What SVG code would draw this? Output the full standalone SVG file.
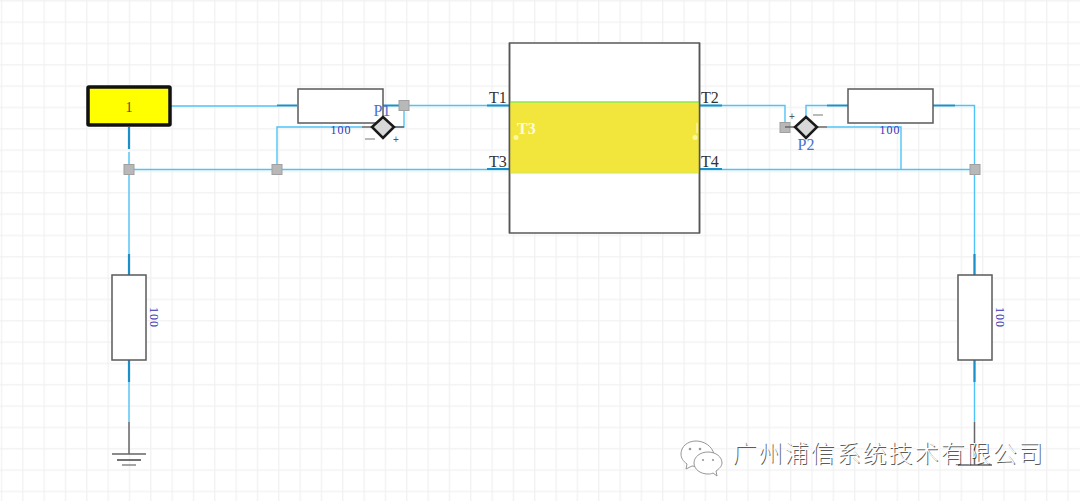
<svg xmlns="http://www.w3.org/2000/svg" width="1080" height="501" viewBox="0 0 1080 501">
<style>
.w{fill:none;stroke:#4fc3f7;stroke-width:1.400}
.s{fill:none;stroke:#1a8fc9;stroke-width:2.200}
.box{fill:#fff;stroke:#5a5a5a;stroke-width:1.500}
.j{fill:#b8b8b8;stroke:#a0a0a0;stroke-width:1}
.t{font-family:"Liberation Serif","DejaVu Serif",serif;font-size:16px;fill:#333}
.v{font-family:"Liberation Serif","DejaVu Serif",serif;font-size:12px;fill:#3535b5;letter-spacing:1px}
.p{font-family:"Liberation Serif","DejaVu Serif",serif;font-size:16px;fill:#4a6fd0}
.d{fill:#d8d8d8;stroke:#1a1a1a;stroke-width:2.500}
.g{stroke:#666;stroke-width:1.500;fill:none}
.m{font-family:"Noto Sans CJK SC","Noto Sans",sans-serif;font-size:24px;font-weight:300;letter-spacing:2px}
</style>
<defs>
<pattern id="grid" width="21.33" height="21.33" patternUnits="userSpaceOnUse" x="0.8" y="0">
<rect width="21.33" height="21.33" fill="#fff"/>
<path d="M0.7 0V21.33M0 0.8H21.33" stroke="#f1f1f1" stroke-width="1.200" fill="none"/>
</pattern>
</defs>
<rect width="1080" height="501" fill="url(#grid)"/>
<g id="connectors">
<path class="w" d="M170 106H277M129 152V422M129 169.500H509M277 169.500V127H362M405 105.500H509M404 106V127H395"/>
<path class="w" d="M700 105.500H785V127M806 127V105.500H827M955 105.500H974.500V422M700 169.500H975M827 127H901V169.500"/>
<path class="s" d="M129 127V149M277 105.500H297M383 105.500H403M129 254V275M129 360V382M827 105.500H848M933 105.500H955M974.500 254V275M974.500 360V382M487 105.500H509M487 169H509M700 105.500H722M700 169H722"/>
</g>
<g id="source"><rect x="88" y="87" width="82" height="38" fill="#ffff00" stroke="#111" stroke-width="3.500" rx="1"/><text x="129" y="112" text-anchor="middle" class="t" style="font-size:14px;fill:#5a4a10">1</text></g>
<g id="j1"><rect class="j" x="124" y="164.500" width="10" height="10"/></g>
<g id="j2"><rect class="j" x="272" y="164.500" width="10" height="10"/></g>
<g id="j3"><rect class="j" x="399" y="100.500" width="10" height="10"/></g>
<g id="j4"><rect class="j" x="780" y="122.500" width="10" height="10"/></g>
<g id="j5"><rect class="j" x="970" y="164.500" width="10" height="10"/></g>
<g id="r1"><rect class="box" x="298" y="89" width="85" height="34"/><text class="v" x="341" y="134" text-anchor="middle">100</text></g>
<g id="r2"><rect class="box" x="848" y="89" width="85" height="34"/><text class="v" x="890" y="134" text-anchor="middle">100</text></g>
<g id="r3"><rect class="box" x="112" y="275" width="34" height="85"/><text class="v" transform="translate(150 317.500) rotate(90)" text-anchor="middle">100</text></g>
<g id="r4"><rect class="box" x="958" y="275" width="34" height="85"/><text class="v" transform="translate(996 317.500) rotate(90)" text-anchor="middle">100</text></g>
<g id="p1"><path class="g" d="M362 127H372M394 127H404"/><path class="d" d="M383 117L394 127L383 138L372 127Z"/><text class="p" x="382" y="116" text-anchor="middle">P1</text><path d="M365 139H375" stroke="#777" stroke-width="1"/><text x="396" y="143" font-size="10" text-anchor="middle" font-family="Liberation Sans,sans-serif" fill="#555">+</text></g>
<g id="p2"><path class="g" d="M785 127H796M817 127H827"/><path class="d" d="M806 117L817 127L806 138L795 127Z"/><text class="p" x="806" y="150" text-anchor="middle">P2</text><path d="M813 115H823" stroke="#777" stroke-width="1"/><text x="792" y="120" font-size="10" text-anchor="middle" font-family="Liberation Sans,sans-serif" fill="#555">+</text></g>
<g id="gnd"><path class="g" d="M129 422V454M112 454H146"/><path d="M117 460H141" stroke="#444" stroke-width="1.500"/><path d="M122 465H136" stroke="#888" stroke-width="1.500"/></g>
<g id="gnd2"><path class="g" d="M974.500 422V465M958 465H992"/></g>
<g id="tl"><rect class="box" x="509.500" y="43" width="190" height="190"/><rect x="510" y="102" width="189" height="71" fill="#f2e63c"/><path d="M510 102H699" stroke="#8fe84a" stroke-width="1.500"/><path d="M510 173H699" stroke="#cfe85a" stroke-width="1"/>
<path d="M509.500 43V233M699.500 43V233" class="g" style="stroke:#555"/>
<text class="t" x="517" y="134" style="fill:#fffbe0;font-weight:bold">T3</text><circle cx="516" cy="137.500" r="2.500" fill="#fdf7a0"/><circle cx="695" cy="137.500" r="2.500" fill="#fdf7a0"/><path d="M697 123V133" stroke="#fffbe0" stroke-width="1"/>
<text class="t" x="489" y="103">T1</text><text class="t" x="489" y="167">T3</text><text class="t" x="701" y="103">T2</text><text class="t" x="701" y="167">T4</text></g>
<g id="watermark">
<g fill="#fff" stroke="#8a8a8a" stroke-width="0.900"><path d="M696 441c-9 0-15 6-15 13 0 4 2 7 6 10l-1 5 6-3c2 0 4 1 6 1 0-8 7-13 16-13-2-8-10-13-18-13z"/><path d="M708 452c-8 0-14 5-14 11s6 11 14 11c2 0 3 0 5-1l4 3-1-5c3-2 6-5 6-8 0-6-6-11-14-11z"/></g>
<g fill="#999"><circle cx="690" cy="449" r="1.300"/><circle cx="700" cy="449" r="1.300"/><circle cx="703" cy="460" r="1.100"/><circle cx="713" cy="460" r="1.100"/></g>
<text class="m" x="733.500" y="462.500" fill="#333" opacity="0.800">广州浦信系统技术有限公司</text>
<text class="m" x="732.500" y="461.500" fill="#fff">广州浦信系统技术有限公司</text>
</g>
</svg>
